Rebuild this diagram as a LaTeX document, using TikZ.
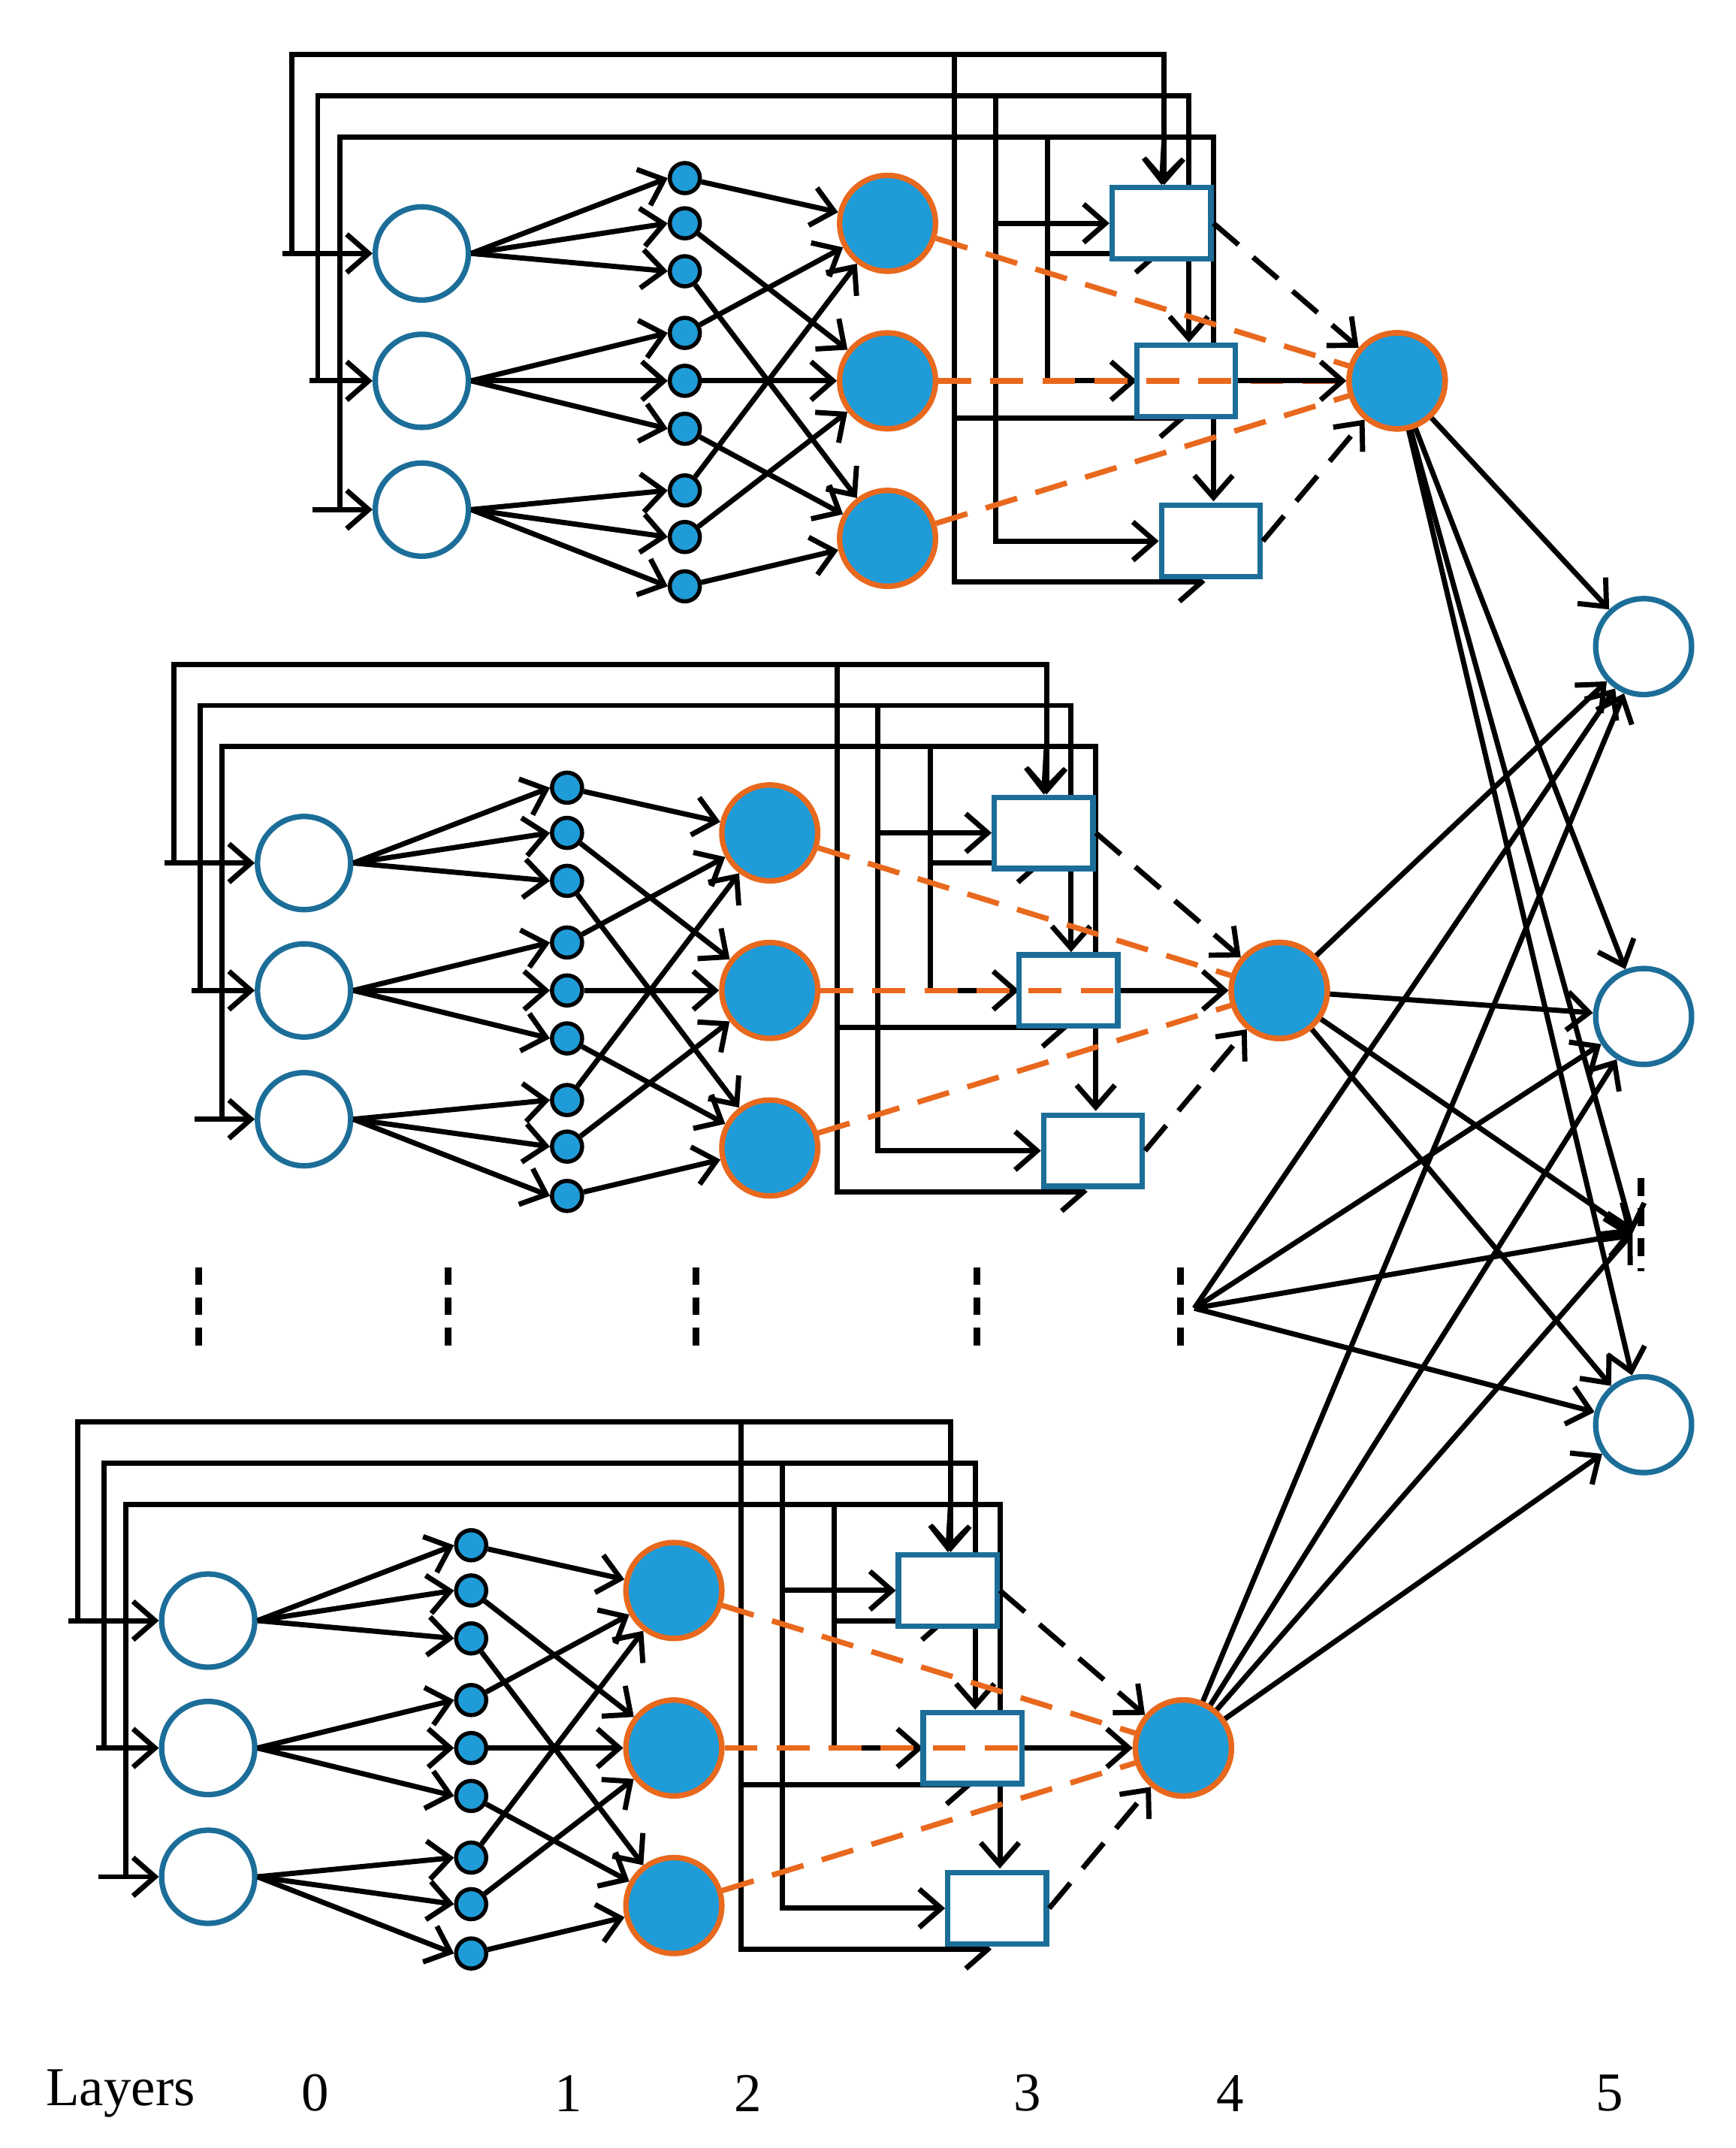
\documentclass[tikz,border=0pt]{standalone}
\usepackage{fontspec}
\setmainfont{Liberation Serif}
\usetikzlibrary{arrows.meta,calc}
\definecolor{nblue}{HTML}{1F9BD7}
\definecolor{norange}{HTML}{E8691E}
\definecolor{bstroke}{HTML}{1C6E99}
\begin{document}
\begin{tikzpicture}[x=1pt,y=-1pt,
  ln/.style={line width=3.8pt,black},
  ar/.style={ln,-{Straight Barb[length=16pt,width=28pt,line width=3.8pt]}},
  inn/.style={circle,draw=bstroke,line width=4pt,fill=white,minimum size=68pt,inner sep=0},
  sm/.style={circle,draw=black,line width=3pt,fill=nblue,minimum size=22pt,inner sep=0},
  big/.style={circle,draw=norange,line width=4pt,fill=nblue,minimum size=70pt,inner sep=0},
  bx/.style={rectangle,draw=bstroke,line width=4pt,fill=white,minimum width=72pt,minimum height=52pt,inner sep=0},
  fin/.style={circle,draw=bstroke,line width=4pt,fill=white,minimum size=70pt,inner sep=0},
  od/.style={line width=4pt,norange,dash pattern=on 24pt off 14pt},
  bd/.style={ar,dash pattern=on 24pt off 14pt},
  dts/.style={line width=5pt,black,dash pattern=on 13pt off 9pt},
  lab/.style={font=\fontsize{40}{46}\selectfont}]
\useasboundingbox (0,0) rectangle (1267,1568);
\foreach \b/\dx/\dy in {1/0/0,2/-86/445,3/-156/998}{
\begin{scope}[shift={(\dx,\dy)}]
  \draw[ar] (213,185) -- (213,40) -- (850,40) -- (850,135);
  \draw[ar] (232,278) -- (232,70) -- (868,70) -- (868,250);
  \draw[ar] (248,372) -- (248,100) -- (886,100) -- (886,366);
  \draw[ar] (697,40) -- (697,425) -- (880,425);
  \draw[ar] (697,305) -- (866,305);
  \draw[ar] (727,70) -- (727,395) -- (846,395);
  \draw[ar] (727,163) -- (810,163);
  \draw[ar] (765,100) -- (765,278) -- (830,278);
  \draw[ar] (765,185) -- (848,185);
  \node[bx] (bx\b1) at (848,163) {};
  \node[bx] (bx\b2) at (866,278) {};
  \node[bx] (bx\b3) at (884,395) {};
  \draw[ar] (850,100) -- (bx\b1.north);
  \foreach \k/\y in {1/185,2/278,3/372}{
    \node[inn] (in\b\k) at (308,\y) {};
  }
  \draw[ar] (206,185) -- (in\b1.west);
  \draw[ar] (226,278) -- (in\b2.west);
  \draw[ar] (228,372) -- (in\b3.west);
  \foreach \k/\y in {1/130,2/163,3/198,4/243,5/278,6/313,7/358,8/392,9/428}{
    \node[sm] (s\b\k) at (500,\y) {};
  }
  \foreach \k/\y in {1/163,2/278,3/393}{
    \node[big] (L\b\k) at (648,\y) {};
  }
  \node[big] (o\b) at (1020,278) {};
  \foreach \s in {1,2,3}{\draw[ar] (in\b1.east) -- (s\b\s.west);}
  \foreach \s in {4,5,6}{\draw[ar] (in\b2.east) -- (s\b\s.west);}
  \foreach \s in {7,8,9}{\draw[ar] (in\b3.east) -- (s\b\s.west);}
  \foreach \s/\t in {1/1,2/2,3/3,4/1,5/2,6/3,7/1,8/2,9/3}{
    \draw[ar] (s\b\s) -- (L\b\t);
  }
  \foreach \k in {1,2,3}{\draw[od] (L\b\k) -- (o\b);}
  \draw[bd] (bx\b1.east) -- (o\b);
  \draw[ar] (bx\b2.east) -- (o\b.west);
  \draw[bd] (bx\b3.east) -- (o\b);
  \node[big] at (o\b) {};
\end{scope}}
\foreach \x in {145,327,508,713,862}{\draw[dts] (\x,925) -- (\x,988);}
\draw[dts] (1198,860) -- (1198,928);
\coordinate (dl) at (872,955);
\coordinate (dr) at (1192,900);
\node[fin] (f1) at (1200,472) {};
\node[fin] (f2) at (1200,742) {};
\node[fin] (f3) at (1200,1040) {};
\foreach \s in {o1,o2,o3,dl}{
  \foreach \t in {f1,f2,f3}{\draw[ar] (\s) -- (\t);}
  \draw[ar] (\s) -- (dr);
}
\node[big] at (o1) {};\node[big] at (o2) {};\node[big] at (o3) {};
\node[lab] (t0) at (88,1528) {Layers};
\foreach \n/\x in {0/230,1/415,2/546,3/750,4/898,5/1175}{\node[lab] (t\n) at (\x,1528) {\n};}
\end{tikzpicture}
\end{document}
